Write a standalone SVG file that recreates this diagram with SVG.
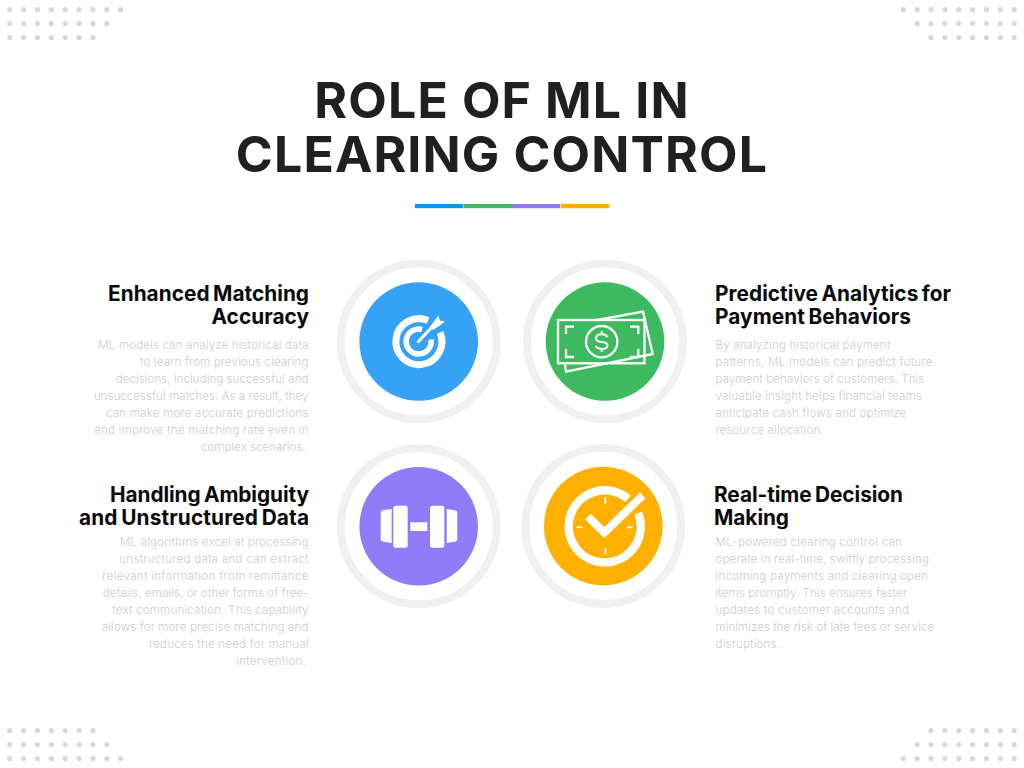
<svg xmlns="http://www.w3.org/2000/svg" width="1024" height="768" viewBox="0 0 1024 768">
<style>
text{font-family:Inter,"Liberation Sans",sans-serif}
.t{font-size:50px;font-weight:700;fill:#202020;text-anchor:middle;letter-spacing:1.15px}
.h{font-size:20.8px;font-weight:700;fill:#0a0a0a;word-spacing:-1.5px}
.b{font-size:11.6px;font-weight:300;fill:#cdcdcd}
.r{text-anchor:end}
.ring{fill:none;stroke:#f0f0f0;stroke-width:8}
.d{fill:#d9d9d9}
.ws{fill:none;stroke:#fff}
</style>
<defs>
<g id="d"><circle r="2.6" class="d"/></g>
<g id="row9"><use href="#d" x="0"/><use href="#d" x="13.87"/><use href="#d" x="27.74"/><use href="#d" x="41.61"/><use href="#d" x="55.48"/><use href="#d" x="69.35"/><use href="#d" x="83.22"/></g>
</defs>
<rect width="1024" height="768" fill="#fff"/>
<g id="dots">
<use href="#row9" x="9.7" y="9.7"/><use href="#d" x="106.8" y="9.7"/><use href="#d" x="120.6" y="9.7"/>
<use href="#row9" x="9.7" y="23.6"/><use href="#d" x="106.8" y="23.6"/>
<use href="#row9" x="9.7" y="37.5"/>
<use href="#row9" x="931" y="9.7"/><use href="#d" x="903.3" y="9.7"/><use href="#d" x="917.2" y="9.7"/>
<use href="#row9" x="931" y="23.6"/><use href="#d" x="917.2" y="23.6"/>
<use href="#row9" x="931" y="37.5"/>
<use href="#row9" x="9.7" y="730.7"/>
<use href="#row9" x="9.7" y="744.6"/><use href="#d" x="106.8" y="744.6"/>
<use href="#row9" x="9.7" y="758.5"/><use href="#d" x="106.8" y="758.5"/><use href="#d" x="120.6" y="758.5"/>
<use href="#row9" x="931" y="730.7"/>
<use href="#row9" x="931" y="744.6"/><use href="#d" x="917.2" y="744.6"/>
<use href="#row9" x="931" y="758.5"/><use href="#d" x="903.3" y="758.5"/><use href="#d" x="917.2" y="758.5"/>
</g>
<g id="title">
<text class="t" x="502" y="118">ROLE OF ML IN</text>
<text class="t" x="502" y="172">CLEARING CONTROL</text>
<rect x="415" y="204" width="48.3" height="4.2" fill="#0f96e6"/>
<rect x="463.7" y="204" width="48.3" height="4.2" fill="#3dba60"/>
<rect x="512" y="204" width="48.3" height="4.2" fill="#907cf9"/>
<rect x="561" y="204" width="48.3" height="4.2" fill="#ffb000"/>
</g>
<g id="node-target">
<circle class="ring" cx="418.7" cy="341.5" r="78"/>
<circle cx="418.7" cy="341.5" r="59.3" fill="#35a2f6"/>
<g class="ws">
<path d="M428 320.500A23 23 0 1 0 440 332.500" stroke-width="7"/>
<path d="M422 329.500A12.500 12.500 0 1 0 431 339.500" stroke-width="5.500"/>
<path d="M418.300 341.700L432 327" stroke-width="3" stroke-linecap="round"/>
</g>
<path d="M430 326.700L438.300 315.700L440 320.500L445 321.700L433 330Z" fill="#fff"/>
</g>
<g id="node-money">
<circle class="ring" cx="605" cy="341.5" r="78"/>
<circle cx="605" cy="341.500" r="59.300" fill="#3dba60"/>
<g class="ws" stroke-width="2.300">
<path d="M597 320L643 311.700L652.700 354L566 371.700L565 364"/>
<rect x="558" y="320" width="86.500" height="43.300"/>
<circle cx="601.700" cy="341.700" r="15.700"/>
<path d="M574 326.700H566V334M630 326.700H638.300V334M574 357H566V349M630 357H638.300V349"/>
<path d="M607.500 337C605.500 333 596 333 596 338.500C596 344.500 607.500 339.500 607.500 345.500C607.500 350 598 350 595.500 346M601.700 331V334M601.700 349V352" stroke-width="2"/>
</g>
</g>
<g id="node-weights">
<circle class="ring" cx="418.7" cy="526.3" r="78"/>
<circle cx="418.7" cy="526.3" r="59.3" fill="#907cf9"/>
<g fill="#fff">
<path d="M383 510.200L391.700 509V543L383 541.800Q380.700 541.300 380.700 539V513Q380.700 510.700 383 510.200Z"/>
<rect x="393.300" y="505.700" width="14.400" height="42" rx="2.500"/>
<rect x="410.300" y="522.300" width="17" height="8.700"/>
<rect x="430" y="505.700" width="14.300" height="42" rx="2.500"/>
<path d="M455 510.200L446.700 509V543L455 541.800Q457.300 541.300 457.300 539V513Q457.300 510.700 455 510.200Z"/>
</g>
</g>
<g id="node-clock">
<circle class="ring" cx="603.300" cy="526" r="78"/>
<circle cx="603.300" cy="526" r="59.300" fill="#ffb000"/>
<path class="ws" d="M628 498.900A36 36 0 1 0 638.200 513.100" stroke-width="8.500"/>
<path class="ws" d="M605.300 497.800V503M605.300 548.800V553.800M577.200 527.300H581.500M627.800 527.300H632" stroke-width="1.800" stroke-linecap="round"/>
<path class="ws" d="M588 516.700L604.300 532.600L642.800 495.300" stroke-width="8"/>
</g>
<g id="item-1">
<text class="h r" x="309" y="300.500" textLength="201">Enhanced Matching</text>
<text class="h r" x="309" y="323.500" textLength="97.500">Accuracy</text>
<g class="b r">
<text x="308.500" y="349" textLength="210.200">ML models can analyze historical data</text>
<text x="308.500" y="366" textLength="168.500">to learn from previous clearing</text>
<text x="308.500" y="383" textLength="192.800">decisions, including successful and</text>
<text x="308.500" y="400" textLength="214.800">unsuccessful matches. As a result, they</text>
<text x="308.500" y="417" textLength="202.500">can make more accurate predictions</text>
<text x="308.500" y="434" textLength="214.200">and improve the matching rate even in</text>
<text x="305.700" y="451" textLength="104.700">complex scenarios.</text>
</g>
</g>
<g id="item-2">
<text class="h" x="715" y="300.500" textLength="236">Predictive Analytics for</text>
<text class="h" x="715" y="323.500" textLength="196">Payment Behaviors</text>
<g class="b">
<text x="715.500" y="349" textLength="174.800">By analyzing historical payment</text>
<text x="715.500" y="366" textLength="216.800">patterns, ML models can predict future</text>
<text x="715.500" y="383" textLength="208.800">payment behaviors of customers. This</text>
<text x="715.500" y="400" textLength="206.200">valuable insight helps financial teams</text>
<text x="715.500" y="417" textLength="190.800">anticipate cash flows and optimize</text>
<text x="715.500" y="434" textLength="108.200">resource allocation.</text>
</g>
</g>
<g id="item-3">
<text class="h r" x="309" y="501.500" textLength="199">Handling Ambiguity</text>
<text class="h r" x="309" y="524.500" textLength="230">and Unstructured Data</text>
<g class="b r">
<text x="308.500" y="546" textLength="188.500">ML algorithms excel at processing</text>
<text x="308.500" y="563" textLength="189.200">unstructured data and can extract</text>
<text x="308.500" y="580" textLength="206.200">relevant information from remittance</text>
<text x="308.500" y="597" textLength="205.500">details, emails, or other forms of free-</text>
<text x="308.500" y="614" textLength="196.200">text communication. This capability</text>
<text x="308.500" y="631" textLength="206.800">allows for more precise matching and</text>
<text x="308.500" y="648" textLength="159.500">reduces the need for manual</text>
<text x="305.700" y="665" textLength="69.400">intervention.</text>
</g>
</g>
<g id="item-4">
<text class="h" x="714" y="501.500" textLength="189">Real-time Decision</text>
<text class="h" x="714" y="524.500" textLength="75">Making</text>
<g class="b">
<text x="715.500" y="546" textLength="186.500">ML-powered clearing control can</text>
<text x="715.500" y="563" textLength="213.500">operate in real-time, swiftly processing</text>
<text x="715.500" y="580" textLength="212.500">incoming payments and clearing open</text>
<text x="715.500" y="597" textLength="191.500">items promptly. This ensures faster</text>
<text x="715.500" y="614" textLength="193.500">updates to customer accounts and</text>
<text x="715.500" y="631" textLength="218.500">minimizes the risk of late fees or service</text>
<text x="715.500" y="648" textLength="64.500">disruptions.</text>
</g>
</g>
</svg>
